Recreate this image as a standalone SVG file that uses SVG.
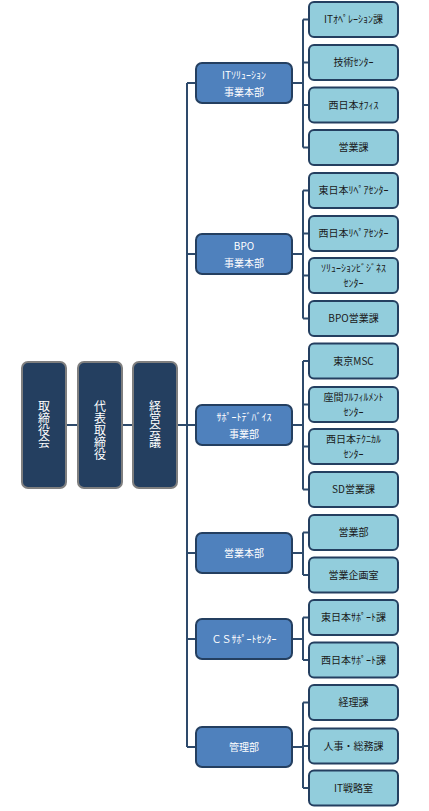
<svg xmlns="http://www.w3.org/2000/svg" width="429" height="811" viewBox="0 0 429 811">
<style>
.top{fill:#243F60;stroke:#7F7F7F;stroke-width:2}
.mid{fill:#4F81BD;stroke:#243F60;stroke-width:2}
.leaf{fill:#92CDDC;stroke:#243F60;stroke-width:2}
.vt{font-family:"Noto Sans CJK JP",sans-serif;font-size:12px;fill:#fff;writing-mode:vertical-rl;text-anchor:start}
.mt{font-family:"Noto Sans CJK JP",sans-serif;font-size:10px;fill:#fff;text-anchor:middle}
.lt{font-family:"Noto Sans CJK JP",sans-serif;font-size:10px;fill:#1a1a1a;text-anchor:middle}
.ln{fill:none;stroke:#2E4A6B;stroke-width:2}
</style>
<g id="connectors">
<path class="ln" d="M66 425H78M122 425H133M177 425H187M187 83V747M187 83H196M187 254H196M187 425H196M187 553H196M187 639H196M187 747H196"/>
<path class="ln" d="M292 83H303M303 19.5V147.5M303 19.5H309M303 62.5H309M303 105H309M303 147.5H309"/>
<path class="ln" d="M292 254H303M303 190.5V318.5M303 190.5H309M303 233.5H309M303 275.5H309M303 318.5H309"/>
<path class="ln" d="M292 425H303M303 361V489.5M303 361H309M303 404.5H309M303 446.5H309M303 489.5H309"/>
<path class="ln" d="M292 553H303M303 532.5V575M303 532.5H309M303 575H309"/>
<path class="ln" d="M292 639H303M303 617.5V660M303 617.5H309M303 660H309"/>
<path class="ln" d="M292 747H303M303 702.5V788M303 702.5H309M303 746H309M303 788H309"/>
</g>
<g id="n-torishimariyakukai"><rect class="top" x="22" y="362" width="44" height="126" rx="6"/><text class="vt" x="44" y="400">取締役会</text></g>
<g id="n-daihyo"><rect class="top" x="78" y="362" width="44" height="126" rx="6"/><text class="vt" x="100" y="400">代表取締役</text></g>
<g id="n-keiei"><rect class="top" x="133" y="362" width="44" height="126" rx="6"/><text class="vt" x="155" y="400">経営会議</text></g>

<g id="n-its"><rect class="mid" x="196" y="63" width="96" height="40" rx="6"/><text class="mt" x="244" y="79">ITｿﾘｭｰｼｮﾝ</text><text class="mt" x="244" y="96">事業本部</text></g>
<g id="n-bpo"><rect class="mid" x="196" y="234" width="96" height="40" rx="6"/><text class="mt" x="244" y="250">BPO</text><text class="mt" x="244" y="267">事業本部</text></g>
<g id="n-sd"><rect class="mid" x="196" y="405" width="96" height="40" rx="6"/><text class="mt" x="244" y="421">ｻﾎﾟｰﾄﾃﾞﾊﾞｲｽ</text><text class="mt" x="244" y="438">事業部</text></g>
<g id="n-eigyo"><rect class="mid" x="196" y="533" width="96" height="40" rx="6"/><text class="mt" x="244" y="557">営業本部</text></g>
<g id="n-cs"><rect class="mid" x="196" y="619" width="96" height="40" rx="6"/><text class="mt" x="244" y="643">ＣＳｻﾎﾟｰﾄｾﾝﾀｰ</text></g>
<g id="n-kanri"><rect class="mid" x="196" y="727" width="96" height="40" rx="6"/><text class="mt" x="244" y="751">管理部</text></g>

<g id="n-l1"><rect class="leaf" x="309" y="2" width="89" height="35" rx="5"/><text class="lt" x="353.5" y="23">ITｵﾍﾟﾚｰｼｮﾝ課</text></g>
<g id="n-l2"><rect class="leaf" x="309" y="45" width="89" height="35" rx="5"/><text class="lt" x="353.5" y="66">技術ｾﾝﾀｰ</text></g>
<g id="n-l3"><rect class="leaf" x="309" y="87.5" width="89" height="35" rx="5"/><text class="lt" x="353.5" y="108.5">西日本ｵﾌｨｽ</text></g>
<g id="n-l4"><rect class="leaf" x="309" y="130" width="89" height="35" rx="5"/><text class="lt" x="353.5" y="151">営業課</text></g>

<g id="n-l5"><rect class="leaf" x="309" y="173" width="89" height="35" rx="5"/><text class="lt" x="353.5" y="194">東日本ﾘﾍﾟｱｾﾝﾀｰ</text></g>
<g id="n-l6"><rect class="leaf" x="309" y="216" width="89" height="35" rx="5"/><text class="lt" x="353.5" y="237">西日本ﾘﾍﾟｱｾﾝﾀｰ</text></g>
<g id="n-l7"><rect class="leaf" x="309" y="258" width="89" height="35" rx="5"/><text class="lt" x="353.5" y="272">ｿﾘｭｰｼｮﾝﾋﾞｼﾞﾈｽ</text><text class="lt" x="353.5" y="287">ｾﾝﾀｰ</text></g>
<g id="n-l8"><rect class="leaf" x="309" y="301" width="89" height="35" rx="5"/><text class="lt" x="353.5" y="322">BPO営業課</text></g>

<g id="n-l9"><rect class="leaf" x="309" y="343.5" width="89" height="35" rx="5"/><text class="lt" x="353.5" y="364.5">東京MSC</text></g>
<g id="n-l10"><rect class="leaf" x="309" y="387" width="89" height="35" rx="5"/><text class="lt" x="353.5" y="401">座間ﾌﾙﾌｨﾙﾒﾝﾄ</text><text class="lt" x="353.5" y="416">ｾﾝﾀｰ</text></g>
<g id="n-l11"><rect class="leaf" x="309" y="429" width="89" height="35" rx="5"/><text class="lt" x="353.5" y="443">西日本ﾃｸﾆｶﾙ</text><text class="lt" x="353.5" y="458">ｾﾝﾀｰ</text></g>
<g id="n-l12"><rect class="leaf" x="309" y="472" width="89" height="35" rx="5"/><text class="lt" x="353.5" y="493">SD営業課</text></g>

<g id="n-l13"><rect class="leaf" x="309" y="515" width="89" height="35" rx="5"/><text class="lt" x="353.5" y="536">営業部</text></g>
<g id="n-l14"><rect class="leaf" x="309" y="557.5" width="89" height="35" rx="5"/><text class="lt" x="353.5" y="578.5">営業企画室</text></g>

<g id="n-l15"><rect class="leaf" x="309" y="600" width="89" height="35" rx="5"/><text class="lt" x="353.5" y="621">東日本ｻﾎﾟｰﾄ課</text></g>
<g id="n-l16"><rect class="leaf" x="309" y="642.5" width="89" height="35" rx="5"/><text class="lt" x="353.5" y="663.5">西日本ｻﾎﾟｰﾄ課</text></g>

<g id="n-l17"><rect class="leaf" x="309" y="685" width="89" height="35" rx="5"/><text class="lt" x="353.5" y="706">経理課</text></g>
<g id="n-l18"><rect class="leaf" x="309" y="728.5" width="89" height="35" rx="5"/><text class="lt" x="353.5" y="749.5">人事・総務課</text></g>
<g id="n-l19"><rect class="leaf" x="309" y="770.5" width="89" height="35" rx="5"/><text class="lt" x="353.5" y="791.5">IT戦略室</text></g>
</svg>
